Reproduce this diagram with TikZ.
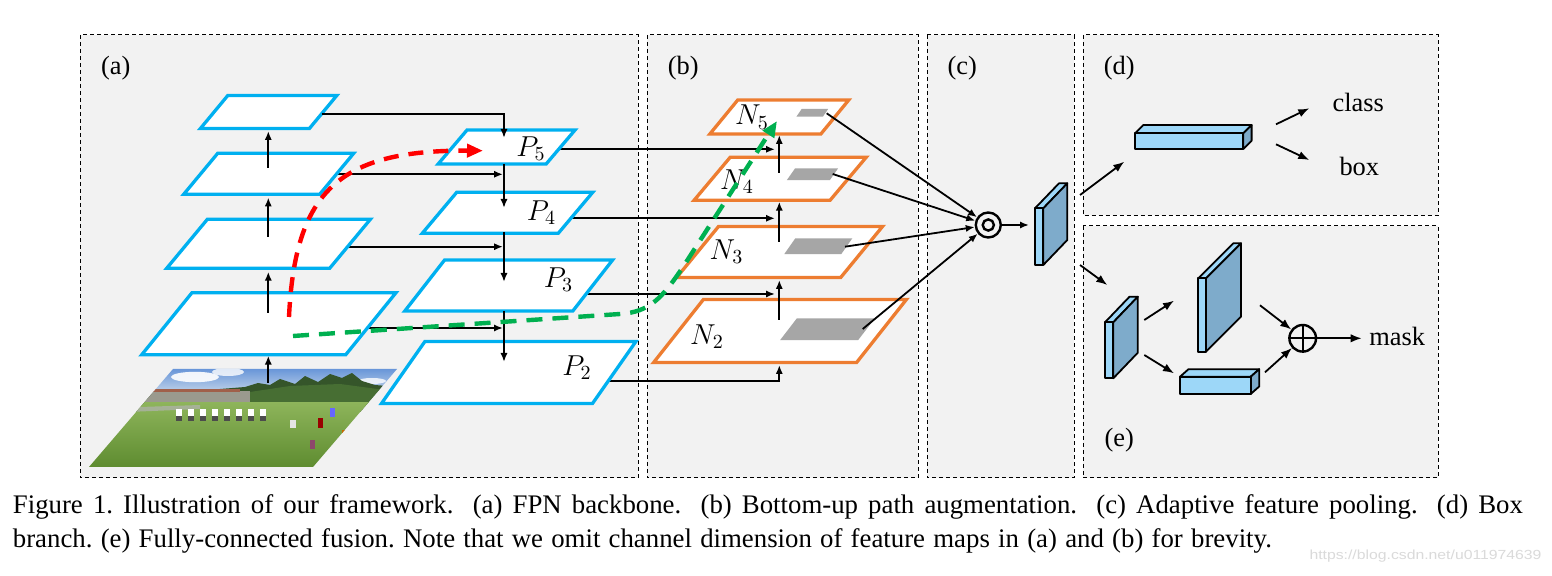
\documentclass[tikz,border=0pt]{standalone}
\usepackage{fontspec}
\setmainfont{Liberation Serif}
\newfontfamily\wmfont{Liberation Sans}
\usetikzlibrary{arrows.meta}
\definecolor{panelbg}{HTML}{F2F2F2}
\definecolor{fpnblue}{HTML}{00B0F0}
\definecolor{augorange}{HTML}{ED7D31}
\definecolor{roigray}{HTML}{A6A6A6}
\definecolor{boxlight}{HTML}{9DD7F8}
\definecolor{boxdark}{HTML}{7EABCB}
\definecolor{pathred}{HTML}{FF0000}
\definecolor{pathgreen}{HTML}{00B050}
\definecolor{wmgray}{HTML}{DADADA}
\definecolor{skyA}{HTML}{5A8CD6}
\definecolor{skyB}{HTML}{DCE6EE}
\definecolor{treeA}{HTML}{35552A}
\definecolor{treeB}{HTML}{4F7A38}
\definecolor{bldg}{HTML}{9A9A8E}
\definecolor{roof}{HTML}{A0604A}
\definecolor{grassA}{HTML}{8DB45A}
\definecolor{grassB}{HTML}{5C8A2E}
% parallelogram: style, name, cx, cy, width, height, slant
\newcommand\mkpara[7]{%
  \coordinate (#2) at (#3,#4);
  \path[#1] ({#3-#5/2+#7*#6/2},{#4-#6/2}) -- ++(#5,0) -- ++({-#7*#6},#6) -- ++({-1*(#5)},0) -- cycle;
}
% cuboid: x, y (front top-left), w, h, dx, dy
\newcommand\mkcuboid[6]{%
  \filldraw[cubeedge, fill=boxlight] (#1,#2) -- ++(#5,#6) -- ++(#3,0) -- ++({-1*(#5)},{-1*(#6)}) -- cycle;
  \filldraw[cubeedge, fill=boxdark] ({#1+#3},#2) -- ++(#5,#6) -- ++(0,#4) -- ++({-1*(#5)},{-1*(#6)}) -- cycle;
  \filldraw[cubeedge, fill=boxlight] (#1,#2) rectangle ++(#3,#4);
}
\begin{document}
\begin{tikzpicture}[x=0.5pt,y=-0.5pt,
  panel/.style={draw=black, fill=panelbg, line width=0.5pt, dash pattern=on 2pt off 1.5pt},
  fpn/.style={draw=fpnblue, fill=white, line width=1.65pt},
  aug/.style={draw=augorange, fill=white, line width=1.65pt},
  roi/.style={fill=roigray},
  arr/.style={-{Latex[length=4.5pt,width=3.6pt]}, line width=0.9pt},
  arrB/.style={-{Latex[length=5.5pt,width=4.2pt]}, line width=0.9pt},
  cubeedge/.style={draw=black, line width=0.9pt, line join=round},
  lbl/.style={font=\fontsize{13.2pt}{15pt}\selectfont, inner sep=0pt},
  mlbl/.style={font=\fontsize{14.2pt}{17pt}\selectfont, inner sep=0pt},
  reddash/.style={draw=pathred, line width=2.2pt, dash pattern=on 7.5pt off 5pt, -{Triangle[length=8pt,width=6.5pt]}},
  greendash/.style={draw=pathgreen, line width=2.2pt, dash pattern=on 8pt off 5pt, -{Triangle[length=8pt,width=6.5pt]}},
]
\useasboundingbox (0,0) rectangle (1552,576);
\fill[white] (0,0) rectangle (1552,576);

% ---------- panels ----------
\draw[panel] (80,35) rectangle (638,478);
\draw[panel] (647,35) rectangle (918,478);
\draw[panel] (927,35) rectangle (1074,478);
\draw[panel] (1083,35) rectangle (1438,215.5);
\draw[panel] (1083,226) rectangle (1438,478);

\node[lbl] (la) at (115.7,68.3) {(a)};
\node[lbl] (lb) at (683.3,68.3) {(b)};
\node[lbl] (lc) at (962.3,68.3) {(c)};
\node[lbl] (ld) at (1119.3,67.7) {(d)};
\node[lbl] (le) at (1119.3,440) {(e)};

% ---------- lateral connections (under the maps) ----------
\coordinate (c4o) at (269,174.3); \coordinate (c4t) at (503,174.3);
\coordinate (c3o) at (269,246.7); \coordinate (c3t) at (503,246.7);
\coordinate (c2o) at (269,328);   \coordinate (c2t) at (503,328);
\draw[arr] (c4o) -- (c4t);
\draw[arr] (c3o) -- (c3t);
\draw[arr] (c2o) -- (c2t);
\coordinate (p5o) at (507,149.3); \coordinate (p5t) at (775,149.3);
\coordinate (p4o) at (508,218.3); \coordinate (p4t) at (775,218.3);
\coordinate (p3o) at (509,294);   \coordinate (p3t) at (775,294);
\coordinate (p2o) at (509,381);   \coordinate (p2k) at (779.3,381); \coordinate (p2t) at (779.3,365);
\draw[arr] (p5o) -- (p5t);
\draw[arr] (p4o) -- (p4t);
\draw[arr] (p3o) -- (p3t);
\draw[arr] (p2o) -- (p2k) -- (p2t);

% ---------- backbone maps ----------
\mkpara{fpn}{C5}{268.6}{112}{109}{33}{0.83}
\mkpara{fpn}{C4}{268.7}{173.8}{136}{41}{0.83}
\mkpara{fpn}{C3}{268.6}{243.7}{163}{49}{0.83}
\mkpara{fpn}{C2}{268.8}{323.8}{204}{62}{0.81}

% ---------- input photo ----------
\begin{scope}
  \clip (173,369) -- (397,369) -- (313,467) -- (89,467) -- cycle;
  \shade[top color=skyA, bottom color=skyB] (80,365) rectangle (400,400);
  \fill[white,opacity=0.9] (195,377) ellipse [x radius=12pt, y radius=2.6pt];
  \fill[white,opacity=0.8] (228,372) ellipse [x radius=8pt, y radius=2pt];
  \fill[white,opacity=0.8] (372,381) ellipse [x radius=7pt, y radius=1.5pt];
  \fill[treeA] (80,400) -- (150,393) -- (180,390) -- (205,392) -- (220,389) -- (245,387) -- (258,383) -- (270,385) -- (280,379) -- (295,384) -- (305,376) -- (318,382) -- (330,374) -- (342,378) -- (352,373) -- (362,381) -- (375,385) -- (400,387) -- (400,412) -- (80,412) -- cycle;
  \fill[treeB,opacity=0.7] (250,392) -- (290,386) -- (340,384) -- (400,392) -- (400,410) -- (250,410) -- cycle;
  \fill[bldg] (140,391) rectangle (250,402);
  \fill[roof] (150,389) rectangle (240,392);
  \shade[top color=grassA, bottom color=grassB] (80,403) rectangle (400,470);
  \fill[gray!60,opacity=0.7] (80,409) -- (200,405) -- (200,409) -- (80,414) -- cycle;
  \foreach \px in {176,188,200,212,224,236,248,260} {
    \fill[white] (\px,409) rectangle ++(6,7);
    \fill[black!70] (\px,416) rectangle ++(6,5);
  }
  \fill[red!60!black] (318,418) rectangle ++(5,10);
  \fill[blue!60] (330,408) rectangle ++(5,9);
  \fill[orange!80!black] (342,430) rectangle ++(5,9);
  \fill[white!80!gray] (290,420) rectangle ++(6,8);
  \fill[magenta!50!black] (310,440) rectangle ++(5,9);
\end{scope}

% ---------- FPN maps ----------
\mkpara{fpn}{P5}{506.6}{147}{108}{34}{0.85}
\mkpara{fpn}{P4}{507.5}{212.8}{136}{41}{0.84}
\mkpara{fpn}{P3}{508.7}{285.5}{168}{51}{0.78}
\mkpara{fpn}{P2}{508.7}{372.5}{211}{62}{0.7}
\node[mlbl] (tP5) at (531,149) {$P_5$};
\node[mlbl] (tP4) at (541.5,212.7) {$P_4$};
\node[mlbl] (tP3) at (558.5,280) {$P_3$};
\node[mlbl] (tP2) at (577,368) {$P_2$};

% ---------- augmented maps ----------
\mkpara{aug}{N5}{779.3}{117}{111}{34}{0.82}
\mkpara{aug}{N4}{780.2}{178.7}{136}{43}{0.84}
\mkpara{aug}{N3}{779.6}{252}{164}{51}{0.82}
\mkpara{aug}{N2}{780}{331}{203}{63}{0.79}
\mkpara{roi}{R5}{812.3}{112.8}{26.5}{7.7}{0.68}
\mkpara{roi}{R4}{812.5}{174.2}{43}{11.7}{0.7}
\mkpara{roi}{R3}{818.3}{246.2}{57}{15.7}{0.7}
\mkpara{roi}{R2}{827.5}{329.2}{78}{21.7}{0.77}
\node[mlbl] (tN5) at (752,117.3) {$N_5$};
\node[mlbl] (tN4) at (737,181.7) {$N_4$};
\node[mlbl] (tN3) at (726.5,251.7) {$N_3$};
\node[mlbl] (tN2) at (707,336.7) {$N_2$};

% ---------- vertical arrows ----------
\coordinate (u0a) at (268.3,383); \coordinate (u0b) at (268.3,355.7);
\coordinate (u1a) at (268.3,313); \coordinate (u1b) at (268.3,271.7);
\coordinate (u2a) at (268.3,236.7); \coordinate (u2b) at (268.3,197.5);
\coordinate (u3a) at (268.3,168); \coordinate (u3b) at (268.3,131);
\draw[arr] (u0a) -- (u0b);
\draw[arr] (u1a) -- (u1b);
\draw[arr] (u2a) -- (u2b);
\draw[arr] (u3a) -- (u3b);
\coordinate (d1a) at (504,164); \coordinate (d1b) at (504,208);
\coordinate (d2a) at (504,232); \coordinate (d2b) at (504,282);
\coordinate (d3a) at (504,311); \coordinate (d3b) at (504,362);
\draw[arr] (d1a) -- (d1b);
\draw[arr] (d2a) -- (d2b);
\draw[arr] (d3a) -- (d3b);
\coordinate (c5o) at (321.5,114.3); \coordinate (c5k) at (504,114.3); \coordinate (c5t) at (504,138);
\draw[arr] (c5o) -- (c5k) -- (c5t);
\coordinate (n1a) at (779.3,320); \coordinate (n1b) at (779.3,280);
\coordinate (n2a) at (779.3,241.7); \coordinate (n2b) at (779.3,201.7);
\coordinate (n3a) at (779.3,172.7); \coordinate (n3b) at (779.3,135);
\draw[arr] (n1a) -- (n1b);
\draw[arr] (n2a) -- (n2b);
\draw[arr] (n3a) -- (n3b);

% ---------- adaptive feature pooling ----------
\node[circle, draw, line width=1.2pt, minimum size=12.5pt, inner sep=0pt] (pool) at (988.3,225) {};
\draw[line width=1.2pt] (pool.center) circle (2.8pt);
\coordinate (g5) at (826.7,113.3);
\coordinate (g4) at (832.7,174);
\coordinate (g3) at (845,246.7);
\coordinate (g2) at (862.7,329);
\draw[arr] (g5) -- (pool);
\draw[arr] (g4) -- (pool);
\draw[arr] (g3) -- (pool);
\draw[arr] (g2) -- (pool);
\coordinate (cin) at (1029,225);
\draw[arr] (pool) -- (cin);
\mkcuboid{1035}{208.3}{8.3}{56.7}{24}{-25}

% ---------- box branch ----------
\coordinate (dA) at (1080,195); \coordinate (dB) at (1124.3,161.7);
\draw[arrB] (dA) -- (dB);
\mkcuboid{1135}{133.3}{108.3}{15.7}{8.3}{-8.3}
\node[lbl] (cls) at (1358.3,102.7) {class};
\node[lbl] (bx) at (1359.3,166.7) {box};
\coordinate (k1a) at (1276,124.3); \coordinate (k1b) at (1309.3,108.3);
\coordinate (k2a) at (1276,144.3); \coordinate (k2b) at (1309.3,160);
\draw[arrB] (k1a) -- (k1b);
\draw[arrB] (k2a) -- (k2b);

% ---------- fully-connected fusion ----------
\coordinate (eA) at (1080,265); \coordinate (eB) at (1107.3,285);
\draw[arrB] (eA) -- (eB);
\mkcuboid{1105}{322.3}{8.3}{56}{24.5}{-25.6}
\mkcuboid{1198.3}{278.3}{7.7}{73.4}{35}{-35}
\mkcuboid{1180}{376.7}{70.7}{17.3}{8.5}{-7.5}
\coordinate (e1a) at (1144.3,320); \coordinate (e1b) at (1174,300.7);
\coordinate (e2a) at (1144.3,355); \coordinate (e2b) at (1174,373.3);
\draw[arrB] (e1a) -- (e1b);
\draw[arrB] (e2a) -- (e2b);
\node[circle, draw, line width=1.2pt, minimum size=13.3pt, inner sep=0pt] (fuse) at (1302.7,338.3) {};
\draw[line width=1.2pt] (fuse.north) -- (fuse.south) (fuse.west) -- (fuse.east);
\coordinate (e3a) at (1260,305.3);
\coordinate (e4a) at (1265,372.3);
\draw[arrB] (e3a) -- (fuse);
\draw[arrB] (e4a) -- (fuse);
\node[lbl, anchor=west] (mask) at (1369,336.5) {mask};
\coordinate (maskin) at (1361.7,338.3);
\draw[arrB] (fuse) -- (maskin);

% ---------- information paths ----------
\coordinate (rs) at (289,317); \coordinate (re) at (483,150.7);
\draw[reddash] (rs) .. controls (295,190) and (340,150) .. (re);
\coordinate (gs) at (293,336); \coordinate (gm) at (620,314); \coordinate (gk) at (683,267); \coordinate (ge) at (777,121);
\draw[greendash] (gs) -- (gm) .. controls (650,312) and (662,298) .. (gk) -- (ge);

% ---------- caption ----------
\node[anchor=base west, inner sep=0pt] (cap1) at (12.5,514) {\fontsize{13.4pt}{16pt}\selectfont\makebox[755pt][s]{Figure 1.\ Illustration of our framework. (a) FPN backbone. (b) Bottom-up path augmentation. (c) Adaptive feature pooling. (d) Box}};
\node[anchor=base west, inner sep=0pt] (cap2) at (12.5,547) {\fontsize{13.4pt}{16pt}\selectfont\frenchspacing\makebox[629.5pt][s]{branch. (e) Fully-connected fusion. Note that we omit channel dimension of feature maps in (a) and (b) for brevity.}};
\node[inner sep=0pt, text=wmgray] (wm) at (1425.5,556.5) {\resizebox{116pt}{\height}{\wmfont\fontsize{6.6pt}{8pt}\selectfont https://blog.csdn.net/u011974639}};
\end{tikzpicture}
\end{document}
